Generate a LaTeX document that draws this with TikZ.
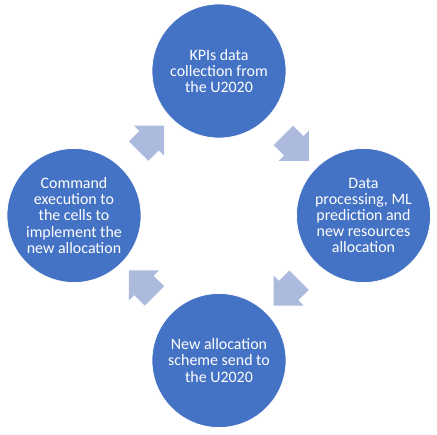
\documentclass[tikz,border=0pt]{standalone}
\usepackage{fontspec}
\setmainfont{Carlito}
\usepackage{xcolor}
\usetikzlibrary{positioning,shapes,arrows,calc}

\definecolor{stepblue}{RGB}{68,114,196}
\definecolor{arrowblue}{RGB}{172,186,222}

\begin{document}
\begin{tikzpicture}[
  every node/.style={font=\fontsize{13.6}{13.7}\selectfont},
  stage/.style={circle, draw=white, line width=0.6pt, fill=stepblue,
    minimum size=4.02cm, inner sep=0pt, text=white, align=center},
  cyclearrow/.style={single arrow, fill=arrowblue, draw=none,
    minimum height=1.08cm, inner xsep=0pt, inner ysep=0.405cm,
    single arrow head extend=0.225cm, single arrow tip angle=90}]
  \useasboundingbox (0,0) rectangle (13.11,-13.02);

  % the four stages of the loop
  \node[stage] (kpi) at (6.57,-2.13) {KPIs data\\collection from\\the U2020};
  \node[stage] (proc) at (10.905,-6.465) {Data\\processing, ML\\prediction and\\new resources\\allocation};
  \node[stage] (scheme) at (6.57,-10.815) {New allocation\\scheme send to\\the U2020};
  \node[stage] (exec) at (2.22,-6.465) {Command\\execution to\\the cells to\\implement the\\new allocation};

  % block arrows between stages
  \node[cyclearrow, rotate=-45] (a1) at ($(kpi)!0.5!(proc)$) {};
  \node[cyclearrow, rotate=-135] (a2) at ($(proc)!0.5!(scheme)$) {};
  \node[cyclearrow, rotate=135] (a3) at ($(scheme)!0.5!(exec)$) {};
  \node[cyclearrow, rotate=45] (a4) at ($(exec)!0.5!(kpi)$) {};
\end{tikzpicture}
\end{document}
